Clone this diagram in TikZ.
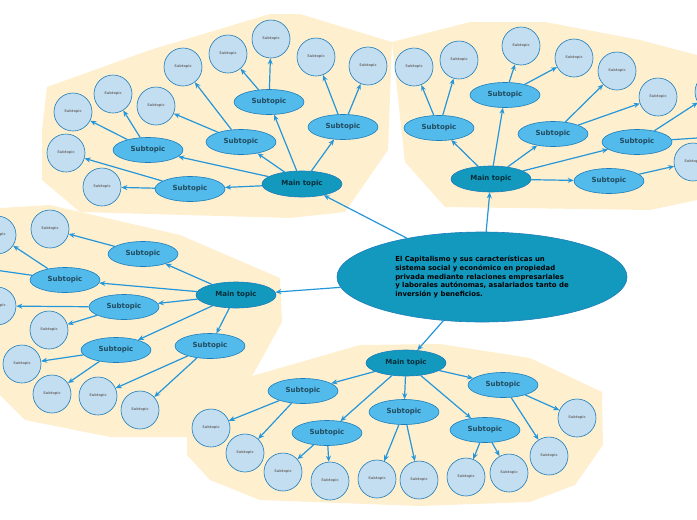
\documentclass[tikz,border=0pt]{standalone}
\usepackage{fontspec}
\setmainfont{DejaVu Sans}
\usetikzlibrary{shapes.geometric,arrows.meta}
\definecolor{mainc}{HTML}{1399BE}
\definecolor{subc}{HTML}{52BBEC}
\definecolor{leafc}{HTML}{C3DDF1}
\definecolor{edgec}{HTML}{1C7DBA}
\definecolor{arrc}{HTML}{2496DA}
\definecolor{blobc}{HTML}{FEEFCF}
\tikzset{
  mt/.style={ellipse,fill=mainc,draw=edgec,line width=0.6pt,minimum width=80pt,minimum height=26pt,inner sep=0pt,font=\bfseries\fontsize{7}{8}\selectfont,text=black!70!mainc},
  st/.style={ellipse,fill=subc,draw=edgec,line width=0.6pt,minimum width=70pt,minimum height=25pt,inner sep=0pt,font=\bfseries\fontsize{7}{8}\selectfont,text=black!60!subc},
  lf/.style={circle,fill=leafc,draw=edgec,line width=0.6pt,minimum size=38pt,inner sep=0pt,font=\bfseries\fontsize{3.5}{4}\selectfont,text=black!55},
  arr/.style={-{Stealth[length=6pt,width=5pt]},draw=arrc,line width=1.2pt},
  blob/.style={fill=blobc,draw=none}
}
\begin{document}
\begin{tikzpicture}[x=1pt,y=-1pt]
\useasboundingbox (0,0) rectangle (697,520);
\begin{scope}
\clip (0,0) rectangle (697,520);
% blobs
\fill[blob] (47,87)--(150,50)--(270,14)--(300,14)--(392,42)--(388,150)--(345,212)--(290,218)--(80,212)--(42,180)--(42,130)--cycle;
\fill[blob] (392,42)--(470,22)--(545,22)--(640,40)--(697,55)--(697,200)--(650,210)--(445,207)--(405,162)--(396,80)--cycle;
\fill[blob] (0,208)--(50,205)--(180,235)--(280,278)--(282,322)--(250,380)--(195,437)--(110,437)--(25,420)--(0,395)--cycle;
\fill[blob] (187,405)--(245,378)--(360,345)--(440,344)--(530,358)--(602,392)--(603,445)--(575,485)--(530,502)--(420,506)--(260,500)--(210,480)--(187,455)--cycle;

% central
\node[ellipse,fill=mainc,draw=edgec,line width=0.6pt,minimum width=290pt,minimum height=90pt,inner sep=0pt,align=left,font=\bfseries\fontsize{6.9}{8.8}\selectfont] (ct) at (482,277) {El Capitalismo y sus características un\\sistema social y económico en propiedad\\privada mediante relaciones empresariales\\y laborales autónomas, asalariados tanto de\\inversión y beneficios.};

% cluster 1
\node[mt] (m1) at (302,184) {Main topic};
\node[st] (a1) at (269,102) {Subtopic};
\node[st] (a2) at (241,142) {Subtopic};
\node[st] (a3) at (148,150) {Subtopic};
\node[st] (a4) at (190,189) {Subtopic};
\node[st] (a5) at (343,127) {Subtopic};
\node[lf] (a1x) at (271,39) {Subtopic};
\node[lf] (a1y) at (228,54) {Subtopic};
\node[lf] (a2x) at (183,67) {Subtopic};
\node[lf] (a2y) at (156,106) {Subtopic};
\node[lf] (a3x) at (113,94) {Subtopic};
\node[lf] (a3y) at (73,112) {Subtopic};
\node[lf] (a4x) at (66,153) {Subtopic};
\node[lf] (a4y) at (102,187) {Subtopic};
\node[lf] (a5x) at (316,57) {Subtopic};
\node[lf] (a5y) at (368,66) {Subtopic};
\foreach \s in {a1,a2,a3,a4,a5}{\draw[arr] (m1) -- (\s); \draw[arr] (\s) -- (\s x); \draw[arr] (\s) -- (\s y);}

% cluster 2
\node[mt] (m2) at (491,179) {Main topic};
\node[st] (b1) at (439,128) {Subtopic};
\node[st] (b2) at (505,95) {Subtopic};
\node[st] (b3) at (553,134) {Subtopic};
\node[st] (b4) at (637,142) {Subtopic};
\node[st] (b5) at (609,181) {Subtopic};
\node[lf] (b1x) at (414,67) {Subtopic};
\node[lf] (b1y) at (459,60) {Subtopic};
\node[lf] (b2x) at (521,46) {Subtopic};
\node[lf] (b2y) at (574,58) {Subtopic};
\node[lf] (b3x) at (617,71) {Subtopic};
\node[lf] (b3y) at (658,97) {Subtopic};
\node[lf] (b4x) at (714,92) {Subtopic};
\node[lf] (b4y) at (728,136) {Subtopic};
\node[lf] (b5x) at (693,162) {Subtopic};
\foreach \s in {b1,b2,b3,b4}{\draw[arr] (m2) -- (\s); \draw[arr] (\s) -- (\s x); \draw[arr] (\s) -- (\s y);}
\draw[arr] (m2) -- (b5); \draw[arr] (b5) -- (b5x);

% cluster 3
\node[mt] (m3) at (236,295) {Main topic};
\node[st] (c1) at (143,254) {Subtopic};
\node[st] (c2) at (65,280) {Subtopic};
\node[st] (c3) at (124,307) {Subtopic};
\node[st] (c4) at (116,350) {Subtopic};
\node[st] (c5) at (210,346) {Subtopic};
\node[lf] (c1x) at (50,229) {Subtopic};
\node[lf] (c2x) at (-3,235) {Subtopic};
\node[lf] (c2y) at (-40,265) {Subtopic};
\node[lf] (c3x) at (-3,306) {Subtopic};
\node[lf] (c3y) at (49,330) {Subtopic};
\node[lf] (c4x) at (22,364) {Subtopic};
\node[lf] (c4y) at (52,394) {Subtopic};
\node[lf] (c5x) at (98,396) {Subtopic};
\node[lf] (c5y) at (140,410) {Subtopic};
\foreach \s in {c2,c3,c4,c5}{\draw[arr] (m3) -- (\s); \draw[arr] (\s) -- (\s x); \draw[arr] (\s) -- (\s y);}
\draw[arr] (m3) -- (c1); \draw[arr] (c1) -- (c1x);

% cluster 4
\node[mt] (m4) at (406,363) {Main topic};
\node[st] (d1) at (303,391) {Subtopic};
\node[st] (d2) at (327,433) {Subtopic};
\node[st] (d3) at (404,412) {Subtopic};
\node[st] (d4) at (485,430) {Subtopic};
\node[st] (d5) at (503,385) {Subtopic};
\node[lf] (d1x) at (211,428) {Subtopic};
\node[lf] (d1y) at (245,453) {Subtopic};
\node[lf] (d2x) at (283,472) {Subtopic};
\node[lf] (d2y) at (330,481) {Subtopic};
\node[lf] (d3x) at (377,479) {Subtopic};
\node[lf] (d3y) at (419,480) {Subtopic};
\node[lf] (d4x) at (466,477) {Subtopic};
\node[lf] (d4y) at (509,473) {Subtopic};
\node[lf] (d5x) at (549,456) {Subtopic};
\node[lf] (d5y) at (577,418) {Subtopic};
\foreach \s in {d1,d2,d3,d4,d5}{\draw[arr] (m4) -- (\s); \draw[arr] (\s) -- (\s x); \draw[arr] (\s) -- (\s y);}

% central links
\draw[arr] (ct) -- (m1);
\draw[arr] (ct) -- (m2);
\draw[arr] (ct) -- (m3);
\draw[arr] (ct) -- (m4);
\end{scope}
\end{tikzpicture}
\end{document}
